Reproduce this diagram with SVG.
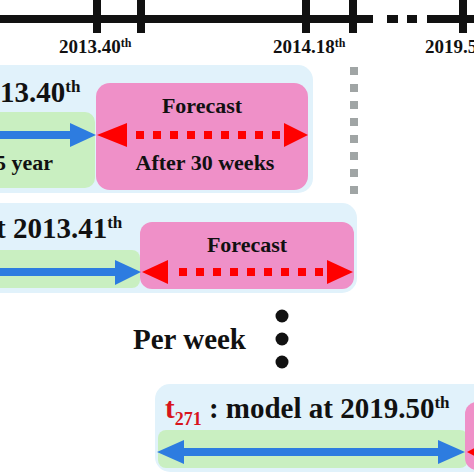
<svg xmlns="http://www.w3.org/2000/svg" width="474" height="474" viewBox="0 0 474 474">
<style>
text{font-family:"Liberation Serif","Times New Roman",serif;font-weight:bold;fill:#111}
.bg{fill:#e1f2fb}
.gr{fill:#c9efc1}
.pk{fill:#ef90c8}
.blk{fill:#111}
.blue{fill:#2d7ce0}
.red{fill:#ff0000}
.rdash{stroke:#ff0000;stroke-width:8;stroke-dasharray:8 9;fill:none}
.gdash{stroke:#a0a5a5;stroke-width:8;stroke-dasharray:8 9;fill:none}
.tl{font-size:19px}
.sup{font-size:12px}
.big{font-size:29px}
.mid{font-size:22px}
</style>
<g id="timeline">
<rect class="blk" x="0" y="15" width="373" height="8"/>
<rect class="blk" x="387" y="15" width="11" height="8"/>
<rect class="blk" x="407" y="15" width="10" height="8"/>
<rect class="blk" x="427" y="15" width="47" height="8"/>
<rect class="blk" x="93" y="0" width="8" height="33"/>
<rect class="blk" x="137" y="0" width="8" height="33"/>
<rect class="blk" x="302" y="0" width="8" height="33"/>
<rect class="blk" x="349" y="0" width="8" height="33"/>
<rect class="blk" x="459" y="0" width="8" height="33"/>
<text class="tl" x="59" y="53">2013.40<tspan class="sup" dy="-6">th</tspan></text>
<text class="tl" x="273" y="53">2014.18<tspan class="sup" dy="-6">th</tspan></text>
<text class="tl" x="425" y="53">2019.50<tspan class="sup" dy="-6">th</tspan></text>
</g>
<g id="model1">
<rect class="bg" x="-20" y="65" width="333" height="128" rx="15"/>
<rect class="gr" x="-20" y="112" width="115" height="76" rx="10"/>
<text class="big" x="0" y="102">13.40<tspan font-size="17" dy="-10">th</tspan></text>
<text class="mid" x="-5" y="170">5 year</text>
</g>
<g id="forecast1">
<rect class="pk" x="96" y="83" width="212" height="107" rx="14"/>
<text class="mid" x="202" y="113" text-anchor="middle">Forecast</text>
<text class="mid" x="205" y="170" text-anchor="middle">After 30 weeks</text>
</g>
<g id="model2">
<rect class="bg" x="-20" y="203" width="377" height="90" rx="15"/>
<rect class="gr" x="-20" y="250" width="160" height="38" rx="8"/>
<text class="big" x="-4" y="238">t 2013.41<tspan font-size="17" dy="-10">th</tspan></text>
</g>
<g id="forecast2">
<rect class="pk" x="140" y="222" width="214" height="67" rx="12"/>
<text class="mid" x="247" y="252" text-anchor="middle">Forecast</text>
</g>
<g id="perweek">
<text class="big" x="133" y="349">Per week</text>
<circle class="blk" cx="282" cy="316" r="6.5"/>
<circle class="blk" cx="282" cy="339" r="6.5"/>
<circle class="blk" cx="282" cy="362" r="6.5"/>
</g>
<g id="model271">
<rect class="bg" x="155" y="384" width="340" height="88" rx="15"/>
<rect class="gr" x="158" y="430" width="310" height="38" rx="8"/>
<rect class="pk" x="465" y="402" width="40" height="68" rx="12"/>
<text class="big" x="165" y="418"><tspan fill="#d8141c">t</tspan><tspan fill="#d8141c" font-size="18" dy="7">271</tspan><tspan dy="-7"> : model at 2019.50</tspan><tspan font-size="17" dy="-10">th</tspan></text>
</g>
<g id="connectors">
<rect class="blue" x="-5" y="131" width="77" height="8"/>
<polygon class="blue" points="70,123 96,135 70,147"/>
<polygon class="red" points="97,135 127,123 127,147"/>
<line class="rdash" x1="136" y1="135" x2="280" y2="135"/>
<polygon class="red" points="308,135 284,123 284,147"/>
<line class="gdash" x1="354" y1="67" x2="354" y2="195"/>
<rect class="blue" x="-5" y="268" width="122" height="8"/>
<polygon class="blue" points="115,260 141,272 115,285"/>
<polygon class="red" points="142,272 168,260 168,284"/>
<line class="rdash" x1="179" y1="272" x2="323" y2="272"/>
<polygon class="red" points="353,272 327,260 327,284"/>
<rect class="blue" x="182" y="448" width="258" height="8"/>
<polygon class="blue" points="157,452 184,440 184,464"/>
<polygon class="blue" points="465,452 438,440 438,464"/>
<polygon class="red" points="467,452 490,440 490,464"/>
</g>
</svg>
